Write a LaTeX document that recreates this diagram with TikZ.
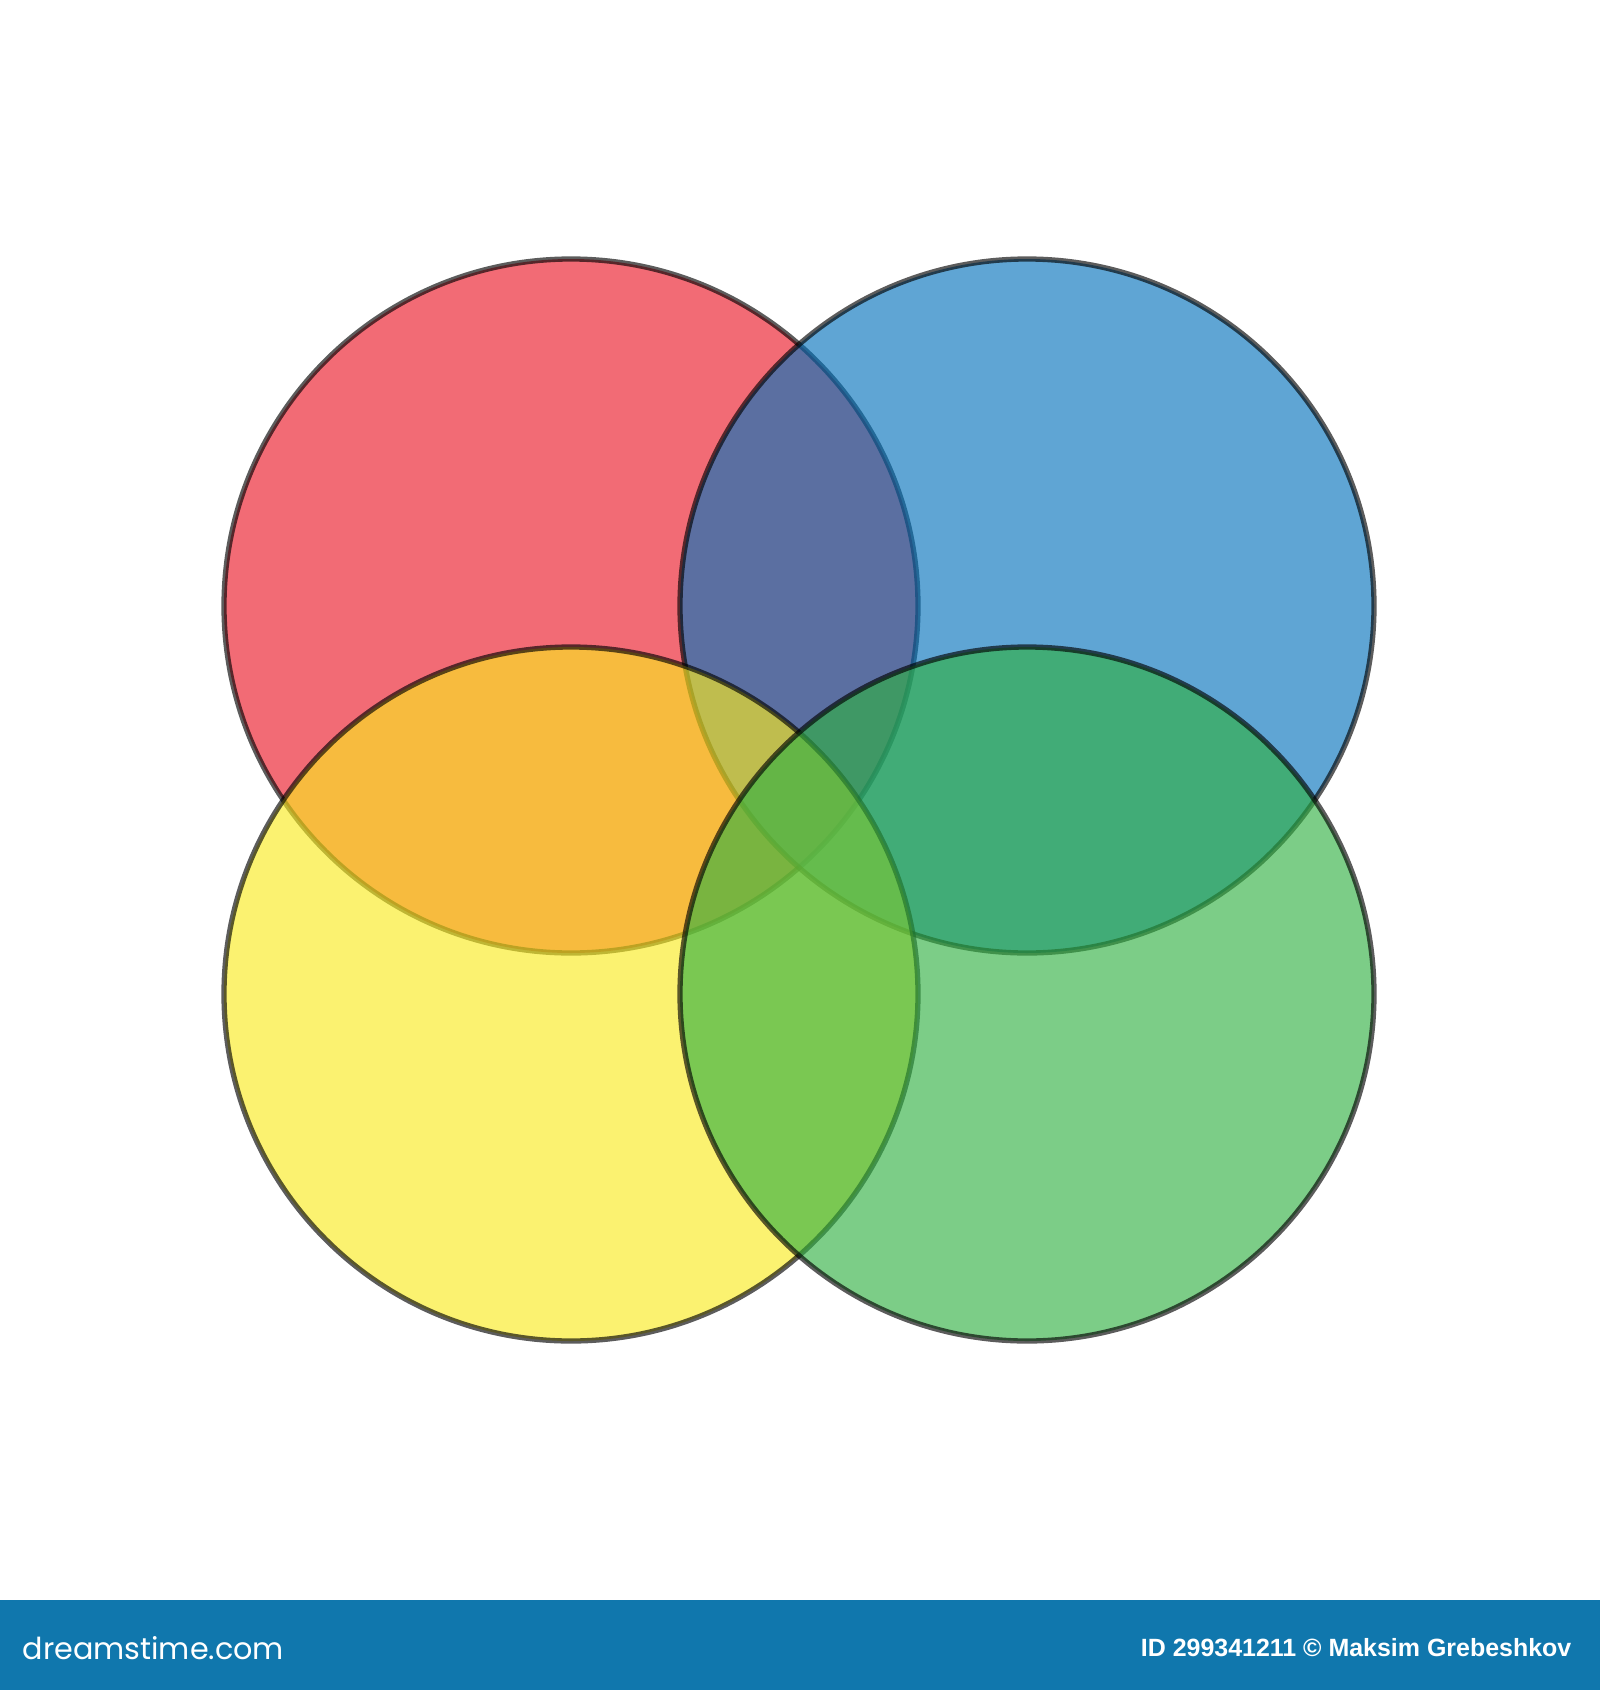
\documentclass[tikz,border=0pt]{standalone}
\usepackage{fontspec}
\setmainfont{Liberation Sans}
\newfontfamily\logofont{Poppins}
\usepackage{xcolor}
\usetikzlibrary{positioning}

\definecolor{setred}{RGB}{235,21,37}
\definecolor{setblue}{RGB}{3,114,188}
\definecolor{setyellow}{RGB}{250,235,30}
\definecolor{setgreen}{RGB}{48,177,66}
\definecolor{barblue}{RGB}{16,119,173}
\tikzset{setdisc/.style={fill=#1, fill opacity=0.63, draw=black, draw opacity=0.64, line width=1.5pt}}

\begin{document}
\begin{tikzpicture}[x=0.1mm, y=-0.1mm]
        \useasboundingbox (0,0) rectangle (1600,1690);
        \fill[white] (0,0) rectangle (1600,1690);
        
        % four sets, drawn in layers
        \coordinate (r) at (571,606);
        \coordinate (b) at (1027,606);
        \coordinate (y) at (571,994);
        \coordinate (g) at (1027,994);
        \draw[setdisc=setred] (r) circle[radius=34.7mm];
        \draw[setdisc=setblue] (b) circle[radius=34.7mm];
        \draw[setdisc=setyellow] (y) circle[radius=34.7mm];
        \draw[setdisc=setgreen] (g) circle[radius=34.7mm];
        
        % bottom bar
        \fill[barblue] (0,1600) rectangle (1600,1690);
        \node[anchor=west, text=white, font=\logofont\fontsize{8.6pt}{9pt}\selectfont, inner sep=0pt] (site) at (22,1648) {dreamstime.com};
        \node[anchor=east, text=white, font=\bfseries\fontsize{7.1pt}{8pt}\selectfont, inner sep=0pt] (credit) at (1572,1648) {ID 299341211 © Maksim Grebeshkov};
\end{tikzpicture}
\end{document}
